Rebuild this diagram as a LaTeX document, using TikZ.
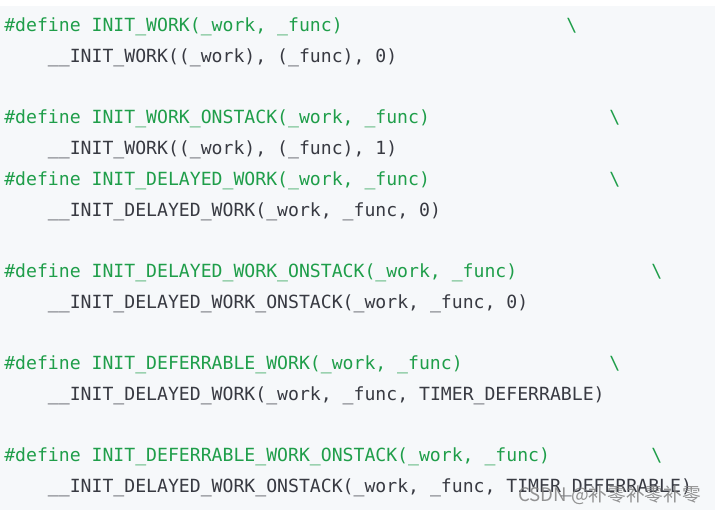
\documentclass[tikz,border=0pt]{standalone}
\usepackage{fontspec}
\setmonofont{DejaVu Sans Mono}
\newfontfamily\cjk{Noto Sans CJK SC}
\definecolor{bgc}{HTML}{F6F8FA}
\definecolor{grn}{HTML}{1F9E4A}
\definecolor{txt}{HTML}{383A42}
\begin{document}
\begin{tikzpicture}[x=0.75pt,y=-0.75pt,
  code/.style={anchor=base west,inner sep=0pt,font=\ttfamily\fontsize{13.6}{16}\selectfont},
  def/.style={code,text=grn},
  body/.style={code,text=txt}]
\useasboundingbox (0,0) rectangle (715,516);
\fill[white] (0,0) rectangle (715,516);
\fill[bgc] (0,6) rectangle (715,510);
\node[def] (l1) at (4,32) {\#define INIT\_WORK(\_work, \_func)};
\node[def] (b1) at (566,32) {\textbackslash};
\node[body] (l2) at (4,63) {\ \ \ \ \_\_INIT\_WORK((\_work), (\_func), 0)};
\node[def] (l3) at (4,124) {\#define INIT\_WORK\_ONSTACK(\_work, \_func)};
\node[def] (b3) at (609,124) {\textbackslash};
\node[body] (l4) at (4,155) {\ \ \ \ \_\_INIT\_WORK((\_work), (\_func), 1)};
\node[def] (l5) at (4,186) {\#define INIT\_DELAYED\_WORK(\_work, \_func)};
\node[def] (b5) at (609,186) {\textbackslash};
\node[body] (l6) at (4,217) {\ \ \ \ \_\_INIT\_DELAYED\_WORK(\_work, \_func, 0)};
\node[def] (l7) at (4,278) {\#define INIT\_DELAYED\_WORK\_ONSTACK(\_work, \_func)};
\node[def] (b7) at (651,278) {\textbackslash};
\node[body] (l8) at (4,309) {\ \ \ \ \_\_INIT\_DELAYED\_WORK\_ONSTACK(\_work, \_func, 0)};
\node[def] (l9) at (4,370) {\#define INIT\_DEFERRABLE\_WORK(\_work, \_func)};
\node[def] (b9) at (609,370) {\textbackslash};
\node[body] (l10) at (4,401) {\ \ \ \ \_\_INIT\_DELAYED\_WORK(\_work, \_func, TIMER\_DEFERRABLE)};
\node[def] (l11) at (4,462) {\#define INIT\_DEFERRABLE\_WORK\_ONSTACK(\_work, \_func)};
\node[def] (b11) at (651,462) {\textbackslash};
\node[body] (l12) at (4,493) {\ \ \ \ \_\_INIT\_DELAYED\_WORK\_ONSTACK(\_work, \_func, TIMER\_DEFERRABLE)};
\node[anchor=base east,inner sep=0pt,text=gray,opacity=0.85,font=\cjk\fontsize{14}{16}\selectfont] (wm) at (701,502) {CSDN @补零补零补零};
\end{tikzpicture}
\end{document}
